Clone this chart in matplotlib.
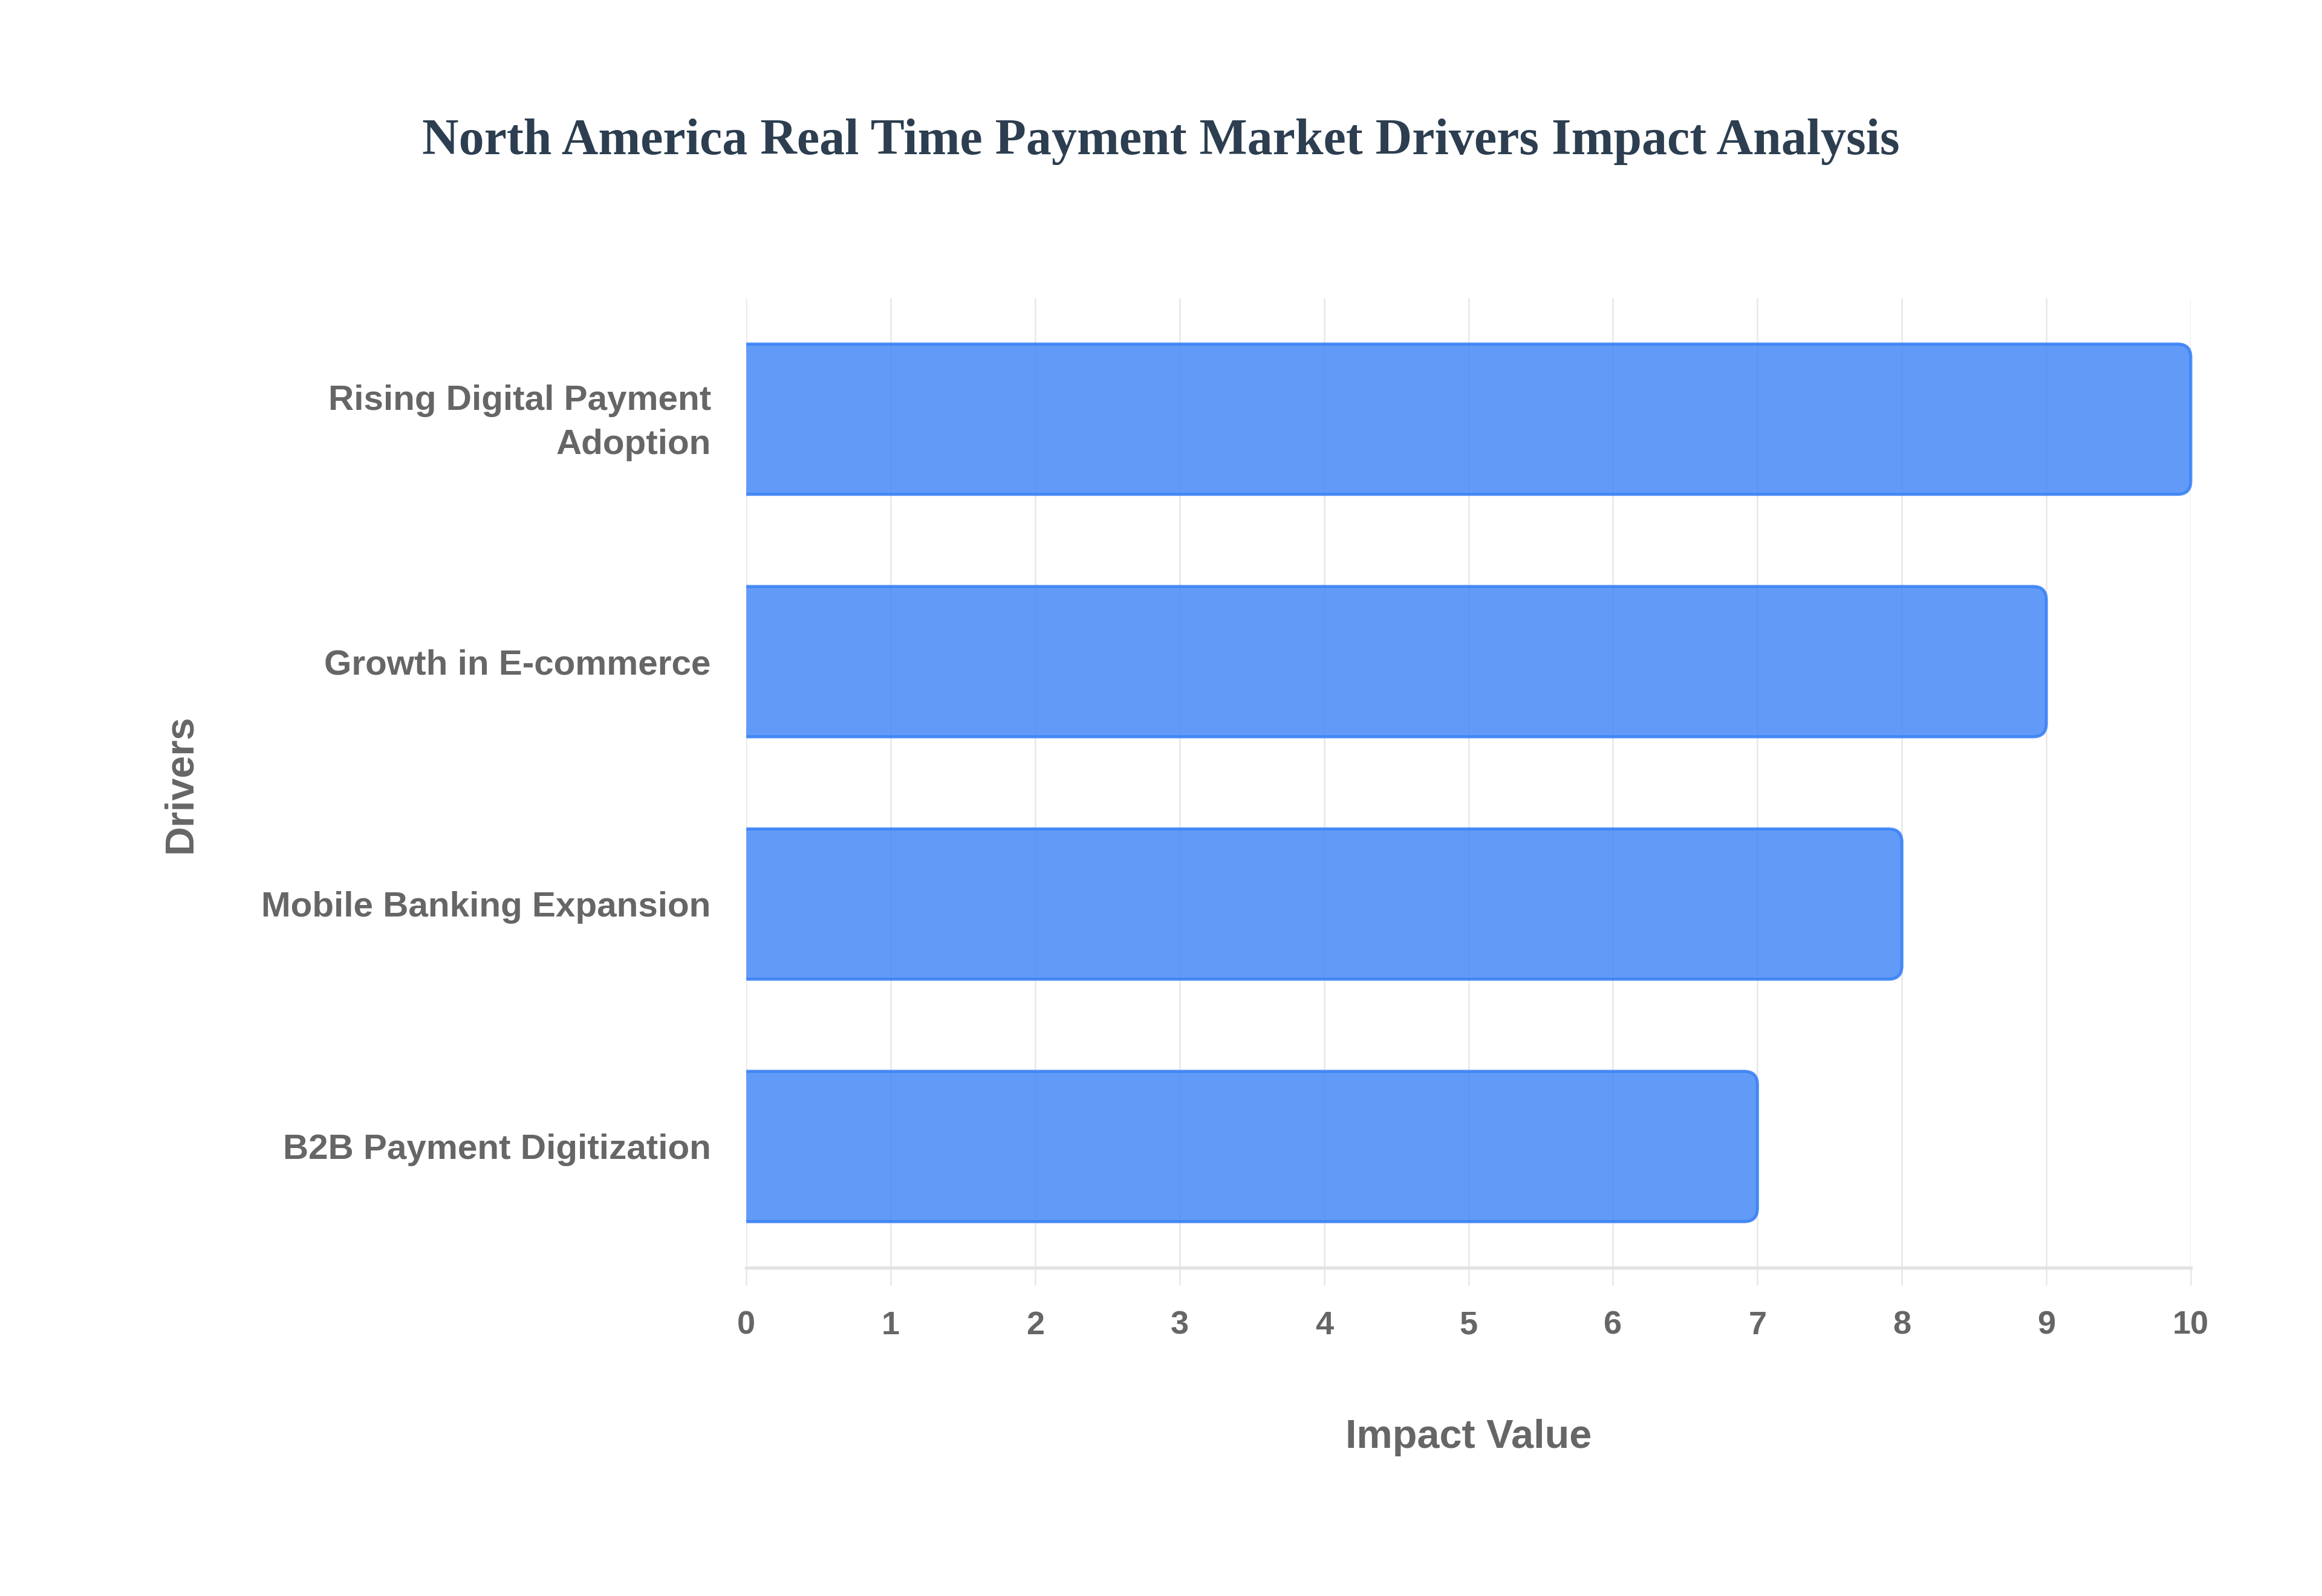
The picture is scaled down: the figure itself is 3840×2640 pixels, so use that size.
import matplotlib
matplotlib.use("Agg")
import matplotlib.pyplot as plt
from matplotlib.path import Path
from matplotlib.patches import PathPatch
from matplotlib.transforms import IdentityTransform, ScaledTranslation

drivers = ["Rising Digital Payment\nAdoption", "Growth in E-commerce",
           "Mobile Banking Expansion", "B2B Payment Digitization"]
impact = [10, 9, 8, 7]
x_ticks = [0, 1, 2, 3, 4, 5, 6, 7, 8, 9, 10]

title = "North America Real Time Payment Market Drivers Impact Analysis"
x_label = "Impact Value"
y_label = "Drivers"

DPI = 300
fig = plt.figure(figsize=(12.8, 8.8), dpi=DPI)
fig.patch.set_facecolor("white")
ax = fig.add_axes([0.3214, 0.2057, 0.6221, 0.6076])

ypos = list(range(len(drivers)))
bars = ax.barh(ypos, impact, height=0.62, color="none", edgecolor="none")
ax.set_xlim(0, 10)
ax.set_ylim(len(drivers) - 0.5, -0.5)

ax.set_xticks(x_ticks)
ax.set_xticklabels([str(t) for t in x_ticks])
ax.set_yticks(ypos)
ax.set_yticklabels(drivers)

for s in ["top", "right", "left"]:
    ax.spines[s].set_visible(False)
ax.spines["bottom"].set_color("#e3e3e3")
ax.spines["bottom"].set_linewidth(1.3)

ax.grid(axis="x", color="#e8e8e8", linewidth=0.6)
ax.set_axisbelow(True)
ax.tick_params(axis="x", length=7, width=0.6, color="#e8e8e8", pad=10,
               labelsize=13, labelcolor="#666666")
ax.tick_params(axis="y", length=0, pad=14, labelsize=14, labelcolor="#666666")
for lab in ax.get_xticklabels() + ax.get_yticklabels():
    lab.set_fontfamily("Liberation Sans")
    lab.set_fontweight("bold")
for lab in ax.get_yticklabels():
    lab.set_linespacing(1.45)
    if "\n" in lab.get_text():
        lab.set_transform(lab.get_transform() +
                          ScaledTranslation(0, 2.2 / 72, fig.dpi_scale_trans))

fig.text(0.5, 0.911, title, ha="center", va="center", fontsize=20.15,
         fontweight="bold", fontfamily="Liberation Serif", color="#2c3e50")
fig.text(0.6325, 0.0928, x_label, ha="center", va="baseline", fontsize=16,
         fontweight="bold", fontfamily="Liberation Sans", color="#666666")
fig.text(0.0779, 0.509, y_label, ha="center", va="center", rotation=90,
         fontsize=16, fontweight="bold", fontfamily="Liberation Sans",
         color="#666666")

# rounded right ends (square at baseline), drawn from the bar geometry
r = 22
for rect in bars:
    x0, y0 = rect.get_x(), rect.get_y()
    w, h = rect.get_width(), rect.get_height()
    (ax0, ay0) = ax.transData.transform((x0, y0))
    (ax1, ay1) = ax.transData.transform((x0 + w, y0 + h))
    L, R = min(ax0, ax1), max(ax0, ax1)
    B, T = min(ay0, ay1), max(ay0, ay1)
    verts = [(L, B), (R - r, B), (R, B), (R, B + r), (R, T - r), (R, T),
             (R - r, T), (L, T)]
    codes = [Path.MOVETO, Path.LINETO, Path.CURVE3, Path.CURVE3, Path.LINETO,
             Path.CURVE3, Path.CURVE3, Path.LINETO]
    fill = PathPatch(Path(verts + [(L, B)], codes + [Path.CLOSEPOLY]),
                     transform=IdentityTransform(), facecolor="#3b82f6",
                     alpha=0.8, edgecolor="none", zorder=3)
    fig.add_artist(fill)
    edge = PathPatch(Path(verts, codes), transform=IdentityTransform(),
                     facecolor="none", edgecolor="#3b82f6", linewidth=1.2,
                     alpha=0.9, zorder=4)
    fig.add_artist(edge)

fig.savefig("out.png", dpi=DPI, facecolor="white")
